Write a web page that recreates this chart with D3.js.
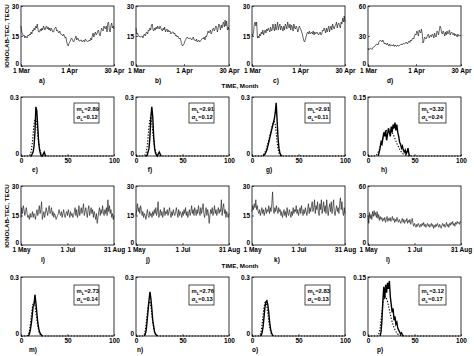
<!DOCTYPE html>
<html><head><meta charset="utf-8">
<script src="https://cdn.jsdelivr.net/npm/d3@7"></script>
<style>
body{margin:0;background:#fff;}
svg text{font-family:"Liberation Sans",Arial,sans-serif;font-weight:bold;fill:#000;}
</style></head><body>
<svg id="chart" width="474" height="356"></svg>
<script>
// ---------- DATA ----------
// Row 1: Mar 1 - Apr 30 (twice daily)
const tecA = [20,17,16,15,15.5,14,15,14.5,14,15.5,15,16,15.5,17,16,18,17.5,19,18,20,19,21,18,17,17,18.5,17.5,19,18,20,19,18,19.5,20,18.5,19.5,18,19,17.5,19,18,17,17,18.5,19,19.5,17.5,18,17,16.5,17.5,16,16,15.5,15,16,15,14,14.5,12,10.5,10,11.5,12,13,14,13.5,12.5,12,13,14,15,13,14,13.5,12.5,12.5,13,13,12,12.5,13,12,13.5,13,12.5,12,12.5,13,12.5,14,13,15,16.5,14.5,16,17,15.5,16,17.5,18,16,15,17,19,18,17.5,20,19,18.5,20,17,21.5,22,18,17,20,21.5,19,20,18.5];
const tecB = [19,16,16.5,15,15,14.5,14.5,15,15,14,15.5,16,15,16.5,17,16,18,17.5,19,18,20.5,21,18,17.5,19,18,19.5,18.5,20,19,18.5,20,19,18,17.5,19,18,19.5,17,18,18.5,17,18,17,17.5,16,16.5,17,17,16,16.5,15,15.5,14.5,15,14,13.5,14,12.5,11,10,10.5,11,12.5,13,14,14.5,14,13.5,14,14,13.5,13,14,14.5,13,13,12.5,13.5,12,12.5,13,12,12.5,13,13.5,14,13.5,14.5,13,15,14.5,16,17.5,16.5,17,18,16,17,18.5,19,17.5,18.5,20,19.5,17,19,21,20,18,20.5,19,21,22,19.5,23,20,22.5,18,19.5,18];
const tecC = [16,15,17,21,22,20,22,14,15,14,16,15,17,16,18,15.5,17,18,16.5,18.5,17.5,19,18,17,19.5,17.5,18,21,19,17.5,21,18,19.5,22,18,20,21,18,20,19,17.5,20,18,21,20,18.5,22,20,19,21,18,20.5,19.5,17.5,21,19,18.5,20,19,17,18,20,19,18.5,17,16,14,12.5,12,13.5,15,16.5,17,16,17.5,16,16.5,17,16,17.5,15.5,17,16,16.5,17,16,15.5,16.5,17,15.5,16,18,17.5,19,18,16.5,19,17,18.5,20,17,19,20,18,21,19.5,18.5,20,20.5,22,19,21,21.5,20,19,22,21,24,22,25,22];
const tecD = [18,16,17,18,17.5,16.5,18,19,19,20,21,22,22,21,24,25,26,25,24,26,25,22,23,22,21,23,21,20,22,20,20.5,21,20,21.5,19.5,21,20,19.5,21,20,20,21,21.5,22,21,22,23,22,22.5,24,23,22,24,25,23.5,26,25,27,28,27,30,32,31,35,33,30,36,34,33,37,32,23,25,29,28,27,29,31,32,28,30,31,29,32,31,28,33,30,29,35,34,31,36,40,38,33,32,35,33,30,34,31,35,32,33,36,31,33,34,32,31,33,30,32,31,29,32,30,30,31,30];
// Row 3: May 1 - Aug 31 (daily)
const tecI = [14,19,16,20,18,15,17,19,16,14,15,13,16,14,15,17,14,16,15,13,16,18,15,17,20,16,18,22,13,15,17,14,16,19,17,15,18,20,16,17,19,15,17,14,16,15,13,14,15,16,18,16,15,17,14,16,18,15,14,16,17,15,18,16,14,17,15,16,14,15,17,19,15,18,14,16,20,15,17,19,16,18,21,15,17,19,16,14,18,20,15,17,19,16,18,14,17,15,13,16,11,14,17,19,15,18,16,20,17,15,18,16,19,15,23,17,20,16,18,14,16,13,15];
const tecJ = [15,18,21,17,19,16,20,18,15,17,14,16,15,13,16,18,15,14,17,15,16,14,17,15,18,16,19,15,17,22,14,16,18,15,17,14,16,19,15,17,16,18,15,17,19,16,14,17,15,18,16,15,17,19,16,14,18,15,17,16,14,17,15,18,16,19,15,17,14,16,18,15,17,20,16,18,15,19,17,15,18,16,20,17,15,19,16,18,21,16,14,17,19,15,18,16,11,15,18,16,19,15,17,20,16,18,15,17,19,16,18,17,23,15,19,21,16,18,14,17,15,14,16];
const tecK = [17,20,18,21,19,23,18,20,17,16,18,15,17,19,16,18,15,17,19,16,18,17,20,16,19,17,21,27,18,16,19,17,20,18,16,19,17,18,15,17,14,16,18,15,17,14,19,16,15,18,16,14,17,15,19,16,18,17,20,16,18,15,17,19,16,20,17,15,18,16,19,17,15,18,21,16,19,17,20,22,17,19,23,16,20,18,22,17,15,21,18,23,16,19,22,17,20,16,23,18,15,19,21,17,22,16,19,23,17,15,18,20,17,19,16,21,24,18,22,17,15,19,16];
const tecL = [30,22,33,27,31,26,34,29,35,30,33,28,34,27,31,25,29,26,28,24,27,25,28,23,26,29,24,27,25,28,24,26,29,25,27,23,26,24,28,25,23,26,24,22,25,27,23,26,22,25,24,27,22,25,23,26,21,24,27,22,19,22,20,18,21,19,22,20,18,21,19,22,20,23,19,21,18,20,22,19,21,18,20,22,19,21,17,20,18,21,19,22,20,18,21,19,17,20,22,19,21,18,20,23,19,21,18,22,20,23,21,24,20,22,19,23,21,24,22,23,21,24,23];

// Histograms (probability per 1-TECU bin) and fitted lognormal, given from a start bin
const histE = [0,0,0.01,0.02,0.05,0.12,0.25,0.23,0.15,0.07,0.03,0.01,0,0,0.01,0.02,0.005,0];
const fitE  = [0,0.002,0.008,0.025,0.06,0.11,0.16,0.19,0.19,0.16,0.11,0.07,0.04,0.02,0.008,0.003,0.001,0];
const histF = [0,0,0.005,0.02,0.04,0.1,0.2,0.25,0.2,0.1,0.04,0.015,0.005,0,0.01,0.02,0.01,0];
const fitF  = [0,0.002,0.007,0.02,0.05,0.1,0.15,0.19,0.2,0.17,0.12,0.08,0.045,0.02,0.01,0.004,0.001,0];
const histG = [0,0.005,0.01,0.02,0.03,0.05,0.07,0.09,0.11,0.13,0.15,0.17,0.19,0.22,0.27,0.18,0.09,0.04,0.015,0.005,0];
const fitG  = [0,0.002,0.006,0.012,0.02,0.03,0.045,0.06,0.08,0.1,0.12,0.14,0.16,0.17,0.175,0.16,0.12,0.07,0.035,0.015,0.005,0.001,0];
const histH = [0,0.01,0.02,0.035,0.03,0.045,0.06,0.05,0.065,0.04,0.055,0.07,0.06,0.05,0.075,0.06,0.08,0.07,0.085,0.065,0.08,0.06,0.05,0.035,0.03,0.02,0.025,0.015,0.01,0.015,0.005,0.01,0.02,0.005,0];
const fitH  = [0,0.002,0.005,0.01,0.016,0.024,0.032,0.04,0.047,0.053,0.058,0.062,0.065,0.067,0.068,0.068,0.067,0.064,0.06,0.055,0.05,0.044,0.038,0.032,0.027,0.022,0.017,0.013,0.01,0.007,0.005,0.004,0.003,0.002,0.001,0.0005,0];
const histM = [0,0.01,0.03,0.06,0.1,0.15,0.16,0.21,0.17,0.12,0.07,0.04,0.02,0.01,0.005,0];
const fitM  = [0,0.002,0.008,0.025,0.055,0.1,0.14,0.165,0.17,0.155,0.12,0.085,0.05,0.028,0.014,0.006,0.002,0];
const histN = [0,0.01,0.03,0.08,0.13,0.18,0.225,0.19,0.14,0.08,0.05,0.02,0.01,0.005,0];
const fitN  = [0,0.002,0.01,0.03,0.065,0.11,0.15,0.175,0.175,0.15,0.11,0.07,0.04,0.02,0.009,0.003,0.001,0];
const histO = [0,0.005,0.02,0.05,0.1,0.15,0.175,0.18,0.16,0.12,0.07,0.035,0.015,0.005,0];
const fitO  = [0,0.002,0.01,0.03,0.065,0.11,0.15,0.17,0.17,0.15,0.115,0.075,0.045,0.022,0.01,0.004,0.001,0];
const histP = [0,0.01,0.04,0.09,0.125,0.095,0.13,0.11,0.135,0.12,0.14,0.1,0.08,0.06,0.07,0.04,0.05,0.03,0.035,0.02,0.015,0.01,0.005,0.008,0.003,0];
const fitP  = [0,0.002,0.008,0.02,0.04,0.062,0.082,0.095,0.1,0.1,0.095,0.087,0.077,0.066,0.055,0.045,0.036,0.028,0.021,0.016,0.011,0.008,0.005,0.003,0.002,0.001,0];

const histStarts = {e:10,f:10,g:12,h:11,m:8,n:9,o:9,p:13};
const fitStarts  = {e:8,f:8,g:10,h:8,m:6,n:7,o:7,p:10};
const mL = {e:"2.89",f:"2.91",g:"2.91",h:"3.32",m:"2.73",n:"2.76",o:"2.83",p:"3.12"};
const sL = {e:"0.12",f:"0.12",g:"0.11",h:"0.24",m:"0.14",n:"0.13",o:"0.13",p:"0.17"};

const yLabel = "IONOLAB-TEC, TECU";
const xLabel = "TIME, Month";

// ---------- LAYOUT ----------
const svg = d3.select("#chart");
const colX = [21,136,252,368], W = 93;
const rowY = [[6,66],[97,156],[186,245],[277,336]];
const letterDx = {a:21,b:22,c:24,d:22,e:14,f:14,g:17,h:16,i:22,j:12,k:25,l:20,m:12,n:4,o:3,p:12};
const FS = 6.5;

function frame(g, w, h) {
  g.append("rect").attr("width", w).attr("height", h)
    .attr("fill", "none").attr("stroke", "#000").attr("stroke-width", 0.8);
}
function styleAxis(sel) {
  sel.select(".domain").remove();
  sel.selectAll("line").attr("stroke", "#000").attr("stroke-width", 0.6);
  sel.selectAll("text").attr("font-size", FS).attr("font-family", null);
}
function liftZero(sel) {
  sel.selectAll(".tick").filter(d => +d === 0).select("text").attr("y", -2.2);
}

const tsDefs = [
  {key:"a", data:tecA, row:0, col:0, ymax:30, s:[2013,2,1], e:[2013,3,30], t:[[2013,2,1],[2013,3,1],[2013,3,30]]},
  {key:"b", data:tecB, row:0, col:1, ymax:30, s:[2013,2,1], e:[2013,3,30], t:[[2013,2,1],[2013,3,1],[2013,3,30]]},
  {key:"c", data:tecC, row:0, col:2, ymax:30, s:[2013,2,1], e:[2013,3,30], t:[[2013,2,1],[2013,3,1],[2013,3,30]]},
  {key:"d", data:tecD, row:0, col:3, ymax:60, s:[2013,2,1], e:[2013,3,30], t:[[2013,2,1],[2013,3,1],[2013,3,30]]},
  {key:"i", data:tecI, row:2, col:0, ymax:30, s:[2013,4,1], e:[2013,7,31], t:[[2013,4,1],[2013,6,1],[2013,7,31]]},
  {key:"j", data:tecJ, row:2, col:1, ymax:30, s:[2013,4,1], e:[2013,7,31], t:[[2013,4,1],[2013,6,1],[2013,7,31]]},
  {key:"k", data:tecK, row:2, col:2, ymax:30, s:[2013,4,1], e:[2013,7,31], t:[[2013,4,1],[2013,6,1],[2013,7,31]]},
  {key:"l", data:tecL, row:2, col:3, ymax:60, s:[2013,4,1], e:[2013,7,31], t:[[2013,4,1],[2013,6,1],[2013,7,31]]}
];
const U = a => new Date(Date.UTC(a[0], a[1], a[2]));
const fmt = d3.utcFormat("%-d %b");

tsDefs.forEach(p => {
  const x0 = colX[p.col], [y0, y1] = rowY[p.row], h = y1 - y0;
  const g = svg.append("g").attr("transform", `translate(${x0},${y0})`);
  const start = U(p.s), end = U(p.e);
  const x = d3.scaleUtc().domain([start, end]).range([0, W]);
  const y = d3.scaleLinear().domain([0, p.ymax]).range([h, 0]);
  const n = p.data.length;
  const t = i => new Date(+start + i * (end - start) / (n - 1));
  g.append("path").datum(p.data)
    .attr("d", d3.line().x((d, i) => x(t(i))).y(d => y(d)))
    .attr("fill", "none").attr("stroke", "#262626").attr("stroke-width", 0.7);
  g.append("g").attr("transform", `translate(0,${h})`)
    .call(d3.axisBottom(x).tickValues(p.t.map(U)).tickFormat(fmt).tickSizeInner(-2).tickSizeOuter(0).tickPadding(2))
    .call(styleAxis);
  g.append("g")
    .call(d3.axisLeft(y).tickValues([0, p.ymax/2, p.ymax]).tickSizeInner(-2).tickSizeOuter(0).tickPadding(2))
    .call(styleAxis).call(liftZero);
  frame(g, W, h);
  g.append("text").attr("x", letterDx[p.key]).attr("y", h + 16.5)
    .attr("text-anchor", "middle").attr("font-size", FS).text(p.key + ")");
});

const hDefs = [
  {key:"e", hist:histE, fit:fitE, row:1, col:0, ymax:0.3},
  {key:"f", hist:histF, fit:fitF, row:1, col:1, ymax:0.3},
  {key:"g", hist:histG, fit:fitG, row:1, col:2, ymax:0.3},
  {key:"h", hist:histH, fit:fitH, row:1, col:3, ymax:0.15},
  {key:"m", hist:histM, fit:fitM, row:3, col:0, ymax:0.3},
  {key:"n", hist:histN, fit:fitN, row:3, col:1, ymax:0.3},
  {key:"o", hist:histO, fit:fitO, row:3, col:2, ymax:0.3},
  {key:"p", hist:histP, fit:fitP, row:3, col:3, ymax:0.15}
];
const bins = d3.range(0, 101);

hDefs.forEach(p => {
  const x0 = colX[p.col], [y0, y1] = rowY[p.row], h = y1 - y0;
  const g = svg.append("g").attr("transform", `translate(${x0},${y0})`);
  const x = d3.scaleLinear().domain([0, 100]).range([0, W]);
  const y = d3.scaleLinear().domain([0, p.ymax]).range([h, 0]);
  const fs = fitStarts[p.key], hs = histStarts[p.key];
  const fitFull = bins.map(b => (b >= fs && b < fs + p.fit.length) ? p.fit[b - fs] : 0);
  g.append("path").datum(fitFull)
    .attr("d", d3.line().x((d, i) => x(bins[i])).y(d => y(d)))
    .attr("fill", "none").attr("stroke", "#000").attr("stroke-width", 1.1)
    .attr("stroke-dasharray", "1.3,1.6");
  g.append("path").datum(p.hist)
    .attr("d", d3.line().x((d, i) => x(hs + i)).y(d => y(d)))
    .attr("fill", "none").attr("stroke", "#000").attr("stroke-width", 1.4);
  g.append("g").attr("transform", `translate(0,${h})`)
    .call(d3.axisBottom(x).tickValues([0, 50, 100]).tickSizeInner(-2).tickSizeOuter(0).tickPadding(2))
    .call(styleAxis);
  g.append("g")
    .call(d3.axisLeft(y).tickValues([0, p.ymax]).tickFormat(d3.format("~g")).tickSizeInner(-2).tickSizeOuter(0).tickPadding(2))
    .call(styleAxis).call(liftZero);
  frame(g, W, h);
  // legend
  const lw = p.col === 3 ? 27 : 25, lh = 20;
  const lx = W - 15 - lw, ly = p.row === 1 ? 6 : 8;
  const lg = g.append("g").attr("transform", `translate(${lx},${ly})`);
  lg.append("rect").attr("width", lw).attr("height", lh).attr("fill", "#fff")
    .attr("stroke", "#000").attr("stroke-width", 0.7);
  [["m", mL[p.key]], ["σ", sL[p.key]]].forEach((r, k) => {
    const tx = lg.append("text").attr("x", 2.5).attr("y", 8 + k * 8).attr("font-size", 5.8);
    tx.append("tspan").text(r[0]);
    tx.append("tspan").attr("dy", 1.6).attr("font-size", 4.2).text("L");
    tx.append("tspan").attr("dy", -1.6).text("=" + r[1]);
  });
  g.append("text").attr("x", letterDx[p.key]).attr("y", h + 15.5)
    .attr("text-anchor", "middle").attr("font-size", FS).text(p.key + ")");
});

// shared labels
[36, 216].forEach(cy => {
  svg.append("text").attr("transform", `translate(8.5,${cy}) rotate(-90)`)
    .attr("text-anchor", "middle").attr("font-size", 6.2).text(yLabel);
});
[88, 268].forEach(by => {
  svg.append("text").attr("x", 240).attr("y", by)
    .attr("text-anchor", "middle").attr("font-size", 6.2).text(xLabel);
});
</script>
</body></html>
